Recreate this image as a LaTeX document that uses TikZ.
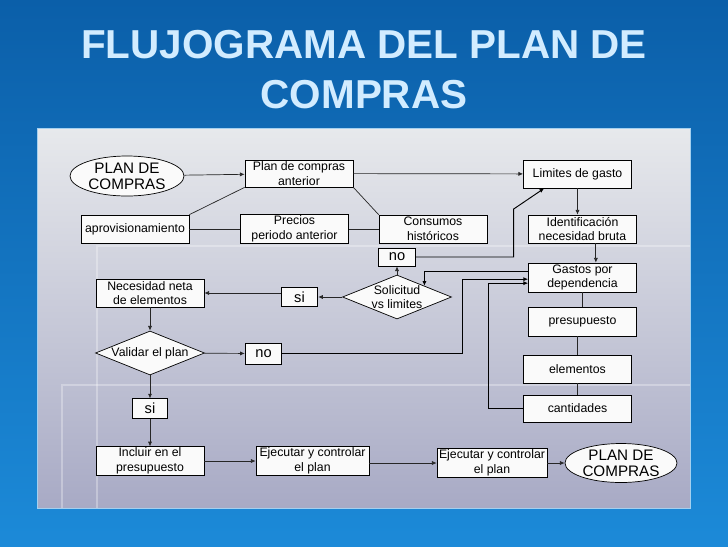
\documentclass[tikz,border=0pt]{standalone}
\usepackage{fontspec}
\setmainfont{Liberation Sans}
\usetikzlibrary{arrows.meta,calc,shapes.geometric}

\definecolor{azulA}{HTML}{0B5FA9}
\definecolor{azulB}{HTML}{1C8AD8}
\definecolor{panelA}{HTML}{E7E9EC}
\definecolor{panelB}{HTML}{A8AAC5}
\definecolor{tituloCol}{HTML}{D2ECFF}

\begin{document}
\begin{tikzpicture}[x=.03cm,y=-.03cm,
    caja/.style={draw=black,fill=white!96!gray,line width=.6pt,minimum width=3.24cm,minimum height=.84cm,
                 inner sep=1pt,align=center,font=\fontsize{10.5}{12.5}\selectfont},
    rombo/.style={diamond,aspect=2.5,draw=black,fill=white!96!gray,line width=.6pt,inner sep=0pt,
                  minimum width=3.27cm,minimum height=1.32cm,align=center,font=\fontsize{10.5}{12}\selectfont},
    ovalo/.style={ellipse,draw=black,fill=white!96!gray,line width=.6pt,inner sep=0pt,minimum width=3.42cm,
                  minimum height=1.2cm,align=center,font=\fontsize{13}{13.5}\selectfont},
    resp/.style={draw=black,fill=white!96!gray,line width=.6pt,minimum width=1.1cm,minimum height=.58cm,
                 inner sep=1pt,font=\fontsize{12.5}{13}\selectfont},
    flecha/.style={-{Latex[length=4pt,width=3.5pt]},line width=.6pt,black!85},
    linea/.style={line width=.6pt,black!85}]
\useasboundingbox (0,0) rectangle (728,546);

%---------------------------------------------------------------------------------------- FONDO
\shade[top color=azulA,bottom color=azulB] (0,0) rectangle (728,546);
\shade[top color=panelA,bottom color=panelB,draw=azulB!40!white,line width=.8pt] (37,128) rectangle (690,508);
\draw[white,opacity=.3,line width=1.5pt] (97,508)--(97,246)--(690,246);   %-------------- marcos del fondo
\draw[white,opacity=.3,line width=1.5pt] (62,508)--(62,385)--(690,385);

%---------------------------------------------------------------------------------------- TITULO
\node[font=\fontsize{34.5}{42.7}\selectfont\bfseries,text=tituloCol,align=center] (titulo) at (364,70)
      {FLUJOGRAMA DEL PLAN DE\\COMPRAS};

%---------------------------------------------------------------------------------------- FILA SUPERIOR
\node[ovalo] (plan1) at (127,176) {PLAN DE\\COMPRAS};
\node[caja,minimum height=.81cm] (pca) at (299,173.5) {Plan de compras\\anterior};
\node[caja] (limites) at (577.5,174) {Limites de gasto};

\node[caja] (aprov) at (135,229) {aprovisionamiento};
\node[caja] (precios) at (294.5,229) {Precios\\periodo anterior};
\node[caja] (consumos) at (433,229) {Consumos\\históricos};
\node[caja] (ident) at (582.5,229) {Identificación\\necesidad bruta};

%---------------------------------------------------------------------------------------- SOLICITUD
\node[resp,minimum height=.54cm] (no1) at (397,257) {no};
\node[rombo] (solicitud) at (397,297) {Solicitud\\vs limites};
\node[resp] (si1) at (299.5,297) {si};
\node[caja] (necesidad) at (150,293) {Necesidad neta\\de elementos};

%---------------------------------------------------------------------------------------- COLUMNA DERECHA
\node[caja,minimum height=.87cm] (gastos) at (582.5,277.5) {Gastos por\\dependencia};
\node[caja,minimum height=.87cm] (presup) at (582.5,321.5) {presupuesto};
\node[caja] (elementos) at (577.5,369) {elementos};
\node[caja,minimum height=.81cm] (cantidades) at (577.5,408.5) {cantidades};

%---------------------------------------------------------------------------------------- VALIDACION
\node[rombo] (validar) at (150,353) {Validar el plan};
\node[resp,minimum height=.63cm] (no2) at (263.5,353.5) {no};
\node[resp,minimum width=1.05cm] (si2) at (150,408.5) {si};

%---------------------------------------------------------------------------------------- FILA INFERIOR
\node[caja] (incluir) at (150,461) {Incluir en el\\presupuesto};
\node[caja,minimum width=3.39cm] (ejec1) at (312.5,461) {Ejecutar y controlar\\el plan};
\node[caja,minimum width=3.3cm] (ejec2) at (492,463) {Ejecutar y controlar\\el plan};
\node[ovalo,minimum width=3.36cm,minimum height=1.17cm] (plan2) at (621,463) {PLAN DE\\COMPRAS};

%---------------------------------------------------------------------------------------- CONECTORES
\draw[flecha] (plan1) -- (pca);
\draw[linea] (pca.south west) -- (aprov.north east);
\draw[linea] (aprov.east) -- (precios.west) (precios.east) -- (consumos.west);
\draw[linea] (pca.south east) -- (consumos.north west);
\draw[flecha] (pca) -- (limites);
\draw[flecha] (limites.south) -- (limites.south |- ident.north);
\draw[flecha] ([xshift=.4cm]ident.south) -- ([xshift=.4cm]ident.south |- gastos.north);

\draw[flecha,line width=.8pt,black] (no1.east) -- ++(98,0) -- ++(0,-48) -- ([xshift=-1cm]limites.south); %-- no -> limites
\draw[flecha] (solicitud) -- (no1);
\draw[flecha,line width=.8pt,black] ([yshift=.17cm]gastos.west) -| ($(solicitud.north)!.5!(solicitud.east)$);
\draw[flecha] (solicitud) -- (si1);
\draw[flecha] (si1.west |- necesidad) -- (necesidad);
\draw[flecha] (necesidad) -- (validar);
\draw[flecha] (validar) -- (no2);
\draw[flecha,line width=.8pt,black] (no2.east) -- ++(180,0) |- ([yshift=-.05cm]gastos.west);   %-- no -> gastos
\draw[flecha,line width=.8pt,black] (cantidades.west) -- ++(-35,0) |- ([yshift=-.17cm]gastos.west);

\draw[linea] (gastos) -- (presup);
\draw[linea] (presup.south -| elementos) -- (elementos);
\draw[linea] (elementos) -- (cantidades);

\draw[flecha] (validar) -- (si2);
\draw[flecha] (si2) -- (incluir);
\draw[flecha] (incluir) -- (ejec1);
\draw[flecha] (ejec1.east |- ejec2) -- (ejec2);
\draw[flecha] (ejec2) -- (plan2);

\end{tikzpicture}
\end{document}
